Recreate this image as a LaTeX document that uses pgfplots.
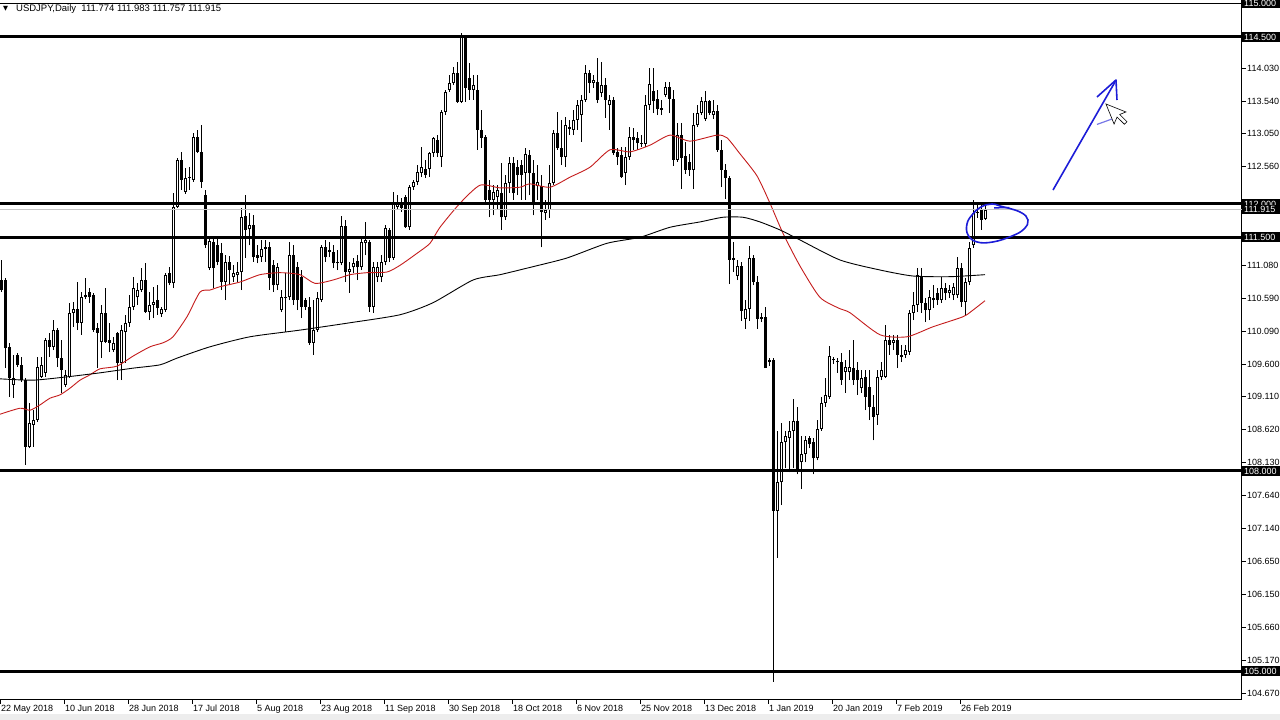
\documentclass[border=0pt]{standalone}
\usepackage{pgfplots}
\pgfplotsset{compat=1.18}
\usepackage{pgfplotstable}
\usepackage{fontspec}
\setmainfont{Liberation Sans}
\newfontfamily\dejavu{DejaVu Sans}
\definecolor{mared}{RGB}{196,28,28}
\definecolor{penblue}{RGB}{28,28,215}
\pgfplotstableread{
x o h l c
0 110.86 111.16 110.68 110.71
1 110.86 110.89 109.54 109.84
2 109.86 109.92 109.11 109.39
3 109.29 109.74 109.09 109.39
4 109.74 109.77 109.56 109.59
5 109.59 109.71 109.33 109.36
6 109.36 109.39 108.09 108.36
7 108.36 109.02 108.34 108.72
8 108.69 108.91 108.36 108.76
9 108.76 109.71 108.73 109.56
10 109.41 109.71 109.39 109.59
11 109.47 109.99 109.41 109.96
12 109.96 110.07 109.71 109.86
13 109.86 110.26 109.81 110.11
14 110.11 110.14 109.56 109.69
15 109.69 109.96 109.17 109.51
16 109.29 109.51 109.26 109.44
17 109.41 110.52 109.39 110.37
18 110.37 110.53 110.16 110.43
19 110.43 110.83 110.11 110.22
20 110.22 110.68 110.04 110.60
21 110.60 110.89 110.57 110.63
22 110.68 110.74 110.52 110.60
23 110.63 110.66 110.08 110.11
24 110.14 110.22 109.54 110.07
25 109.93 110.49 109.69 110.37
26 110.37 110.74 109.92 109.93
27 109.96 110.22 109.78 109.92
28 109.81 110.01 109.78 109.92
29 110.07 110.08 109.36 109.62
30 109.62 110.19 109.36 110.11
31 110.08 110.34 109.62 110.22
32 110.22 110.63 110.16 110.46
33 110.46 110.90 110.41 110.74
34 110.60 110.81 110.49 110.71
35 110.71 111.04 110.68 110.86
36 110.86 111.11 110.37 110.38
37 110.38 110.68 110.26 110.49
38 110.49 110.75 110.29 110.53
39 110.56 110.78 110.34 110.44
40 110.35 110.46 110.31 110.43
41 110.41 110.96 110.38 110.93
42 110.96 111.05 110.78 110.81
43 110.81 112.16 110.74 111.95
44 111.95 112.69 111.94 112.66
45 112.66 112.78 112.21 112.36
46 112.18 112.54 112.15 112.39
47 112.39 112.55 112.21 112.40
48 112.36 113.06 112.33 113.00
49 113.00 113.11 112.76 112.78
50 112.78 113.18 112.24 112.33
51 112.13 112.21 111.34 111.38
52 111.04 111.50 111.01 111.44
53 111.43 111.50 110.74 111.04
54 111.38 111.50 111.08 111.13
55 111.26 111.41 110.71 110.83
56 110.83 111.23 110.56 111.13
57 111.13 111.22 110.78 111.01
58 110.90 111.08 110.83 110.96
59 110.93 111.13 110.83 110.98
60 110.98 111.94 110.71 111.80
61 111.82 112.13 111.19 111.61
62 111.62 111.86 111.38 111.68
63 111.68 111.83 111.13 111.20
64 111.23 111.38 111.11 111.19
65 111.20 111.46 111.13 111.32
66 111.32 111.46 111.13 111.35
67 111.35 111.43 110.71 110.89
68 111.08 111.16 110.68 110.78
69 110.78 111.11 110.71 111.05
70 110.41 110.71 110.38 110.60
71 110.59 110.96 110.08 110.60
72 110.60 111.43 110.56 111.23
73 111.23 111.38 110.49 110.56
74 111.05 111.13 110.41 110.56
75 110.90 111.01 110.29 110.46
76 110.56 110.59 110.41 110.46
77 110.46 110.60 109.89 109.92
78 109.92 110.56 109.74 110.11
79 110.11 110.68 110.08 110.59
80 110.56 111.38 110.53 111.35
81 111.35 111.46 111.13 111.20
82 111.28 111.43 111.20 111.31
83 111.28 111.38 111.04 111.11
84 111.11 111.31 111.01 111.13
85 111.11 111.82 111.08 111.67
86 111.67 111.76 110.83 110.98
87 110.98 111.13 110.67 111.02
88 111.05 111.19 110.96 111.11
89 111.14 111.23 110.86 111.05
90 111.05 111.49 111.01 111.43
91 111.41 111.73 111.23 111.46
92 111.43 111.46 110.38 110.46
93 110.46 111.13 110.37 111.05
94 110.90 111.13 110.83 111.05
95 110.90 111.23 110.83 111.13
96 111.13 111.68 111.08 111.64
97 111.61 111.64 111.13 111.19
98 111.19 112.18 111.16 112.03
99 111.95 112.13 111.91 112.03
100 111.98 112.09 111.88 111.94
101 112.10 112.13 111.64 111.65
102 111.65 112.28 111.61 112.25
103 112.25 112.36 112.21 112.33
104 112.33 112.58 112.28 112.48
105 112.46 112.85 112.40 112.55
106 112.52 112.66 112.39 112.43
107 112.52 112.78 112.40 112.76
108 112.76 113.00 112.70 112.99
109 112.96 113.03 112.70 112.76
110 112.70 113.41 112.55 113.38
111 113.38 113.71 113.33 113.68
112 113.71 113.93 113.68 113.81
113 113.81 114.05 113.78 113.96
114 113.96 114.12 113.51 113.53
115 113.53 114.56 113.51 114.50
116 114.50 114.53 113.53 113.74
117 113.89 114.11 113.56 113.71
118 113.71 113.93 113.56 113.78
119 113.71 113.93 112.81 113.11
120 113.11 113.41 112.84 112.99
121 113.00 113.03 112.03 112.06
122 112.21 112.36 111.80 112.06
123 112.06 112.28 111.83 112.18
124 112.10 112.28 111.91 112.21
125 112.16 112.61 111.61 111.80
126 111.80 112.43 111.76 112.31
127 112.31 112.70 112.16 112.61
128 112.61 112.70 112.06 112.16
129 112.55 112.66 112.13 112.43
130 112.58 112.66 112.06 112.43
131 112.46 112.84 112.06 112.75
132 112.73 112.81 112.13 112.46
133 112.46 112.66 111.83 111.98
134 112.27 112.58 112.06 112.33
135 112.27 112.43 111.35 111.88
136 111.86 112.06 111.76 111.91
137 111.91 112.58 111.79 112.31
138 112.31 113.11 112.28 113.06
139 113.06 113.38 112.81 112.84
140 112.84 113.26 112.58 112.70
141 112.70 113.30 112.55 113.18
142 113.12 113.26 113.03 113.15
143 113.11 113.41 113.03 113.26
144 113.26 113.56 113.11 113.48
145 113.33 113.63 112.93 113.56
146 113.56 114.08 113.53 113.96
147 113.96 114.01 113.66 113.81
148 113.81 113.93 113.74 113.86
149 113.83 114.18 113.51 113.56
150 113.66 114.12 113.60 113.78
151 113.78 113.89 113.29 113.56
152 113.48 113.63 113.11 113.56
153 113.56 113.60 112.73 112.76
154 112.78 112.84 112.58 112.70
155 112.73 112.85 112.39 112.40
156 112.46 112.85 112.28 112.70
157 112.70 113.15 112.66 113.00
158 113.00 113.14 112.81 112.96
159 112.99 113.08 112.81 112.91
160 112.90 113.03 112.85 112.91
161 112.90 113.63 112.85 113.48
162 113.48 114.04 113.41 113.80
163 113.69 114.04 113.36 113.54
164 113.57 113.71 113.33 113.42
165 113.41 113.56 113.33 113.44
166 113.63 113.83 113.60 113.75
167 113.75 113.83 113.36 113.57
168 113.57 113.71 112.57 112.66
169 112.66 113.21 112.63 113.03
170 113.03 113.21 112.22 112.69
171 112.72 112.93 112.45 112.51
172 112.63 112.75 112.42 112.51
173 112.51 113.36 112.22 113.18
174 113.18 113.48 113.15 113.36
175 113.36 113.60 113.33 113.54
176 113.27 113.69 113.24 113.54
177 113.54 113.56 113.33 113.36
178 113.33 113.56 113.27 113.39
179 113.39 113.48 112.78 112.81
180 112.81 112.96 112.25 112.51
181 112.51 112.60 112.07 112.39
182 112.39 112.42 110.80 111.16
183 111.16 111.43 110.98 111.19
184 110.92 111.16 110.86 111.07
185 111.07 111.13 110.25 110.40
186 110.28 110.56 110.13 110.43
187 110.43 111.37 110.25 111.19
188 111.19 111.23 110.78 110.83
189 110.83 110.92 110.13 110.28
190 110.28 110.37 110.23 110.31
191 110.31 110.46 109.54 109.54
192 109.63 109.69 109.57 109.66
193 109.66 109.69 104.84 107.40
194 107.40 108.60 106.70 107.83
195 107.83 108.72 107.49 108.43
196 108.43 108.60 108.04 108.52
197 108.49 108.75 107.98 108.60
198 108.60 109.08 108.04 108.75
199 108.75 108.96 107.95 107.98
200 108.13 108.52 107.73 108.25
201 108.25 108.52 108.13 108.46
202 108.49 108.52 108.34 108.40
203 108.43 108.49 107.95 108.19
204 108.19 108.76 108.16 108.63
205 108.63 109.11 108.60 109.02
206 109.02 109.39 108.96 109.14
207 109.11 109.87 109.08 109.72
208 109.66 109.71 109.60 109.68
209 109.63 109.69 109.47 109.65
210 109.63 109.77 109.29 109.36
211 109.48 109.66 109.17 109.56
212 109.48 109.81 109.36 109.56
213 109.54 109.96 109.29 109.36
214 109.51 109.63 109.14 109.36
215 109.24 109.51 109.17 109.39
216 109.41 109.51 108.91 109.11
217 109.26 109.51 108.76 108.96
218 108.96 109.14 108.46 108.81
219 108.84 109.51 108.69 109.41
220 109.41 109.63 109.36 109.51
221 109.41 110.19 109.39 109.96
222 109.96 110.04 109.74 109.89
223 109.92 110.04 109.81 109.96
224 109.96 110.04 109.54 109.74
225 109.74 109.89 109.63 109.71
226 109.74 109.89 109.69 109.81
227 109.78 110.41 109.74 110.37
228 110.37 110.68 110.26 110.49
229 110.49 111.04 110.38 110.93
230 110.90 111.04 110.37 110.52
231 110.52 110.59 110.23 110.41
232 110.41 110.71 110.26 110.60
233 110.56 110.78 110.44 110.59
234 110.66 110.74 110.49 110.56
235 110.56 110.90 110.52 110.74
236 110.74 110.81 110.56 110.66
237 110.66 110.78 110.59 110.71
238 110.63 110.81 110.56 110.75
239 110.63 111.20 110.59 111.04
240 111.04 111.11 110.46 110.53
241 110.53 110.89 110.34 110.83
242 110.83 111.43 110.78 111.34
243 111.38 112.06 111.34 111.86
244 111.86 111.98 111.79 111.88
245 111.92 111.98 111.61 111.76
246 111.774 111.983 111.757 111.915
}\candles
\begin{document}
\begin{tikzpicture}
\fill[black!7] (0pt,-20pt) rectangle (1280pt,-14pt);
\begin{axis}[
  at={(0pt,0pt)}, anchor=south west,
  scale only axis, width=1242pt, height=700pt,
  xmin=-0.33, xmax=310.17, ymin=104.57, ymax=115.054,
  axis line style={black, line width=1pt},
  tick style={black, line width=0.8pt},
  tick align=outside, major tick length=4pt,
  xtick pos=bottom, ytick pos=right, yticklabel pos=right,
  xtick={-0.33,15.67,31.67,47.67,63.67,79.67,95.67,111.67,127.67,143.67,159.67,175.67,191.67,207.67,223.67,239.67},
  xticklabels={22 May 2018,10 Jun 2018,28 Jun 2018,17 Jul 2018,5 Aug 2018,23 Aug 2018,11 Sep 2018,30 Sep 2018,18 Oct 2018,6 Nov 2018,25 Nov 2018,13 Dec 2018,1 Jan 2019,20 Jan 2019,7 Feb 2019,26 Feb 2019},
  xticklabel style={anchor=north west, inner sep=1pt, font=\fontsize{9}{10}\selectfont},
  ytick={114.03,113.54,113.05,112.56,111.08,110.59,110.09,109.60,109.11,108.62,108.13,107.64,107.14,106.65,106.15,105.66,105.17,104.67},
  yticklabels={114.030,113.540,113.050,112.560,111.080,110.590,110.090,109.600,109.110,108.620,108.130,107.640,107.140,106.650,106.150,105.660,105.170,104.670},
  yticklabel style={anchor=west, inner sep=1pt, font=\fontsize{9}{10}\selectfont},
  extra y ticks={115,114.5,112,111.915,111.5,108,105},
  extra y tick labels={115.000,114.500,112.000,111.915,111.500,108.000,105.000},
  extra y tick style={yticklabel style={fill=black, text=white, inner xsep=2pt, inner ysep=1.4pt, text height=6.6pt, text depth=0.2pt, text width=36pt, align=left, xshift=-4pt}},
]
% wicks
\addplot[draw=none, mark=none, forget plot,
  error bars/.cd, y dir=plus, y explicit, error mark=none,
  error bar style={draw=black, line width=1pt}]
  table[x=x, y=l, y error expr={\thisrow{h}-\thisrow{l}}] {\candles};
% bodies (outline / bearish fill)
\addplot[draw=none, mark=none, forget plot,
  error bars/.cd, y dir=plus, y explicit, error mark=none,
  error bar style={draw=black, line width=3.5pt}]
  table[x=x, y expr={min(\thisrow{o},\thisrow{c})}, y error expr={max(abs(\thisrow{c}-\thisrow{o}),0.014)}] {\candles};
% bullish interior
\addplot[draw=none, mark=none, forget plot,
  error bars/.cd, y dir=plus, y explicit, error mark=none,
  error bar style={draw=white, line width=1.5pt}]
  table[x=x, y expr={\thisrow{o}+0.015}, y error expr={max(\thisrow{c}-\thisrow{o}-0.030,0)}] {\candles};
% moving averages
\addplot[mared, line width=0.9pt, smooth, tension=0.4] coordinates {
(-0.33,108.85) (4.67,108.94) (7.17,108.91) (9.67,108.99) (12.17,109.09) (14.67,109.14) (17.17,109.24) (19.67,109.36) (22.17,109.44) (24.67,109.53) (28.92,109.57) (32.92,109.72) (37.17,109.86) (40.42,109.92) (42.92,110.01) (46.42,110.31) (49.67,110.68) (52.17,110.71) (54.67,110.76) (59.67,110.83) (64.67,110.94) (69.67,110.97) (74.67,110.94) (78.42,110.81) (82.92,110.86) (87.17,110.94) (91.42,110.97) (96.42,110.98) (99.67,111.08) (103.92,111.26) (107.17,111.41) (109.67,111.65) (114.67,112.01) (119.67,112.28) (124.67,112.24) (129.67,112.25) (132.17,112.30) (137.17,112.25) (142.17,112.40) (147.17,112.55) (152.17,112.81) (157.17,112.78) (162.17,112.88) (167.17,113.03) (172.17,112.94) (178.92,113.03) (181.42,112.99) (184.67,112.75) (188.92,112.42) (192.17,112.01) (195.42,111.56) (199.67,111.07) (204.67,110.60) (209.67,110.43) (212.17,110.37) (219.67,110.04) (226.42,110.01) (232.92,110.16) (240.42,110.31) (242.92,110.41) (245.92,110.55)};
\addplot[black, line width=0.9pt, smooth, tension=0.4] coordinates {
(-0.33,109.38) (7.92,109.36) (16.42,109.41) (24.67,109.47) (32.92,109.54) (39.67,109.59) (43.92,109.69) (52.17,109.86) (62.17,110.01) (74.67,110.11) (87.17,110.22) (99.67,110.34) (107.92,110.52) (117.92,110.86) (124.67,110.94) (132.92,111.06) (141.42,111.19) (151.42,111.41) (159.67,111.50) (167.17,111.65) (174.67,111.73) (180.42,111.80) (185.42,111.80) (189.67,111.73) (194.67,111.61) (199.67,111.46) (209.67,111.16) (219.67,111.01) (227.92,110.92) (237.17,110.91) (245.92,110.94)};
% horizontal levels
\addplot[gray!45, line width=0.8pt] coordinates {(-1,111.915) (312,111.915)};
\addplot[black, line width=1.5pt] coordinates {(-1,115) (312,115)};
\addplot[black, line width=3pt] coordinates {(-1,114.5) (312,114.5)};
\addplot[black, line width=3pt] coordinates {(-1,112) (312,112)};
\addplot[black, line width=3pt] coordinates {(-1,111.5) (312,111.5)};
\addplot[black, line width=3pt] coordinates {(-1,108) (312,108)};
\addplot[black, line width=3pt] coordinates {(-1,105) (312,105)};
% hand-drawn annotations
\draw[penblue, line width=1.6pt] plot[smooth cycle, tension=0.7] coordinates {(249.67,111.969) (254.67,111.879) (256.67,111.759) (255.67,111.624) (252.67,111.519) (247.92,111.430) (243.92,111.430) (241.67,111.535) (241.42,111.699) (242.67,111.834) (244.92,111.954) (247.67,111.999)};
\draw[penblue, line width=1.4pt] (248.2,111.94) -- (252.0,111.945);
\draw[penblue, line width=1.6pt] (262.92,112.208) -- (278.42,113.826);
\draw[penblue, line width=1.6pt, line join=round] (273.92,113.601) -- (278.67,113.856) -- (278.92,113.556);
\draw[penblue!60, line width=1.2pt] (273.9,113.19) -- (277.6,113.27);
\begin{scope}[shift={(axis cs:276.17,113.496)}, rotate=22, scale=1.35]
\draw[black, fill=white, line width=0.6pt, line join=miter] (0pt,0pt) -- (0pt,-16pt) -- (4pt,-12pt) -- (7pt,-19pt) -- (9.5pt,-18pt) -- (6.5pt,-11pt) -- (11.5pt,-11pt) -- cycle;
\end{scope}
% title
\node[anchor=base west, inner sep=0pt, font=\dejavu\fontsize{6.5}{6.5}\selectfont] at (rel axis cs:0.0024,0.9843) {▼};
\node[anchor=base west, inner sep=0pt, font=\fontsize{9.5}{10}\selectfont] at (rel axis cs:0.01288,0.98286) {USDJPY,Daily\ \ 111.774 111.983 111.757 111.915};
\end{axis}
\pgfresetboundingbox
\path[use as bounding box] (0pt,-20pt) rectangle (1280pt,700pt);
\end{tikzpicture}
\end{document}
